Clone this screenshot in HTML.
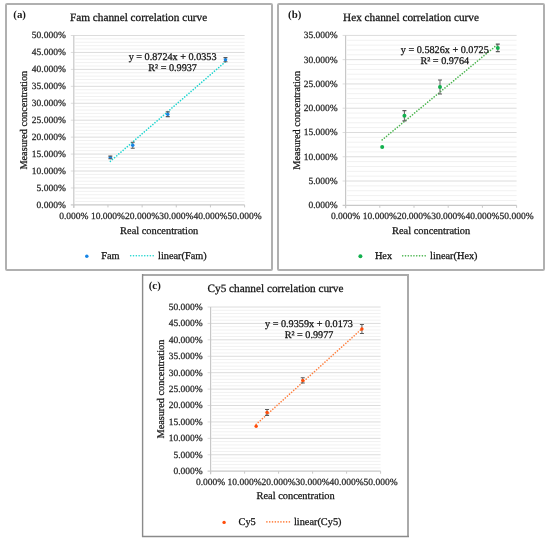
<!DOCTYPE html>
<html><head><meta charset="utf-8"><title>Channel correlation curves</title>
<style>html,body{margin:0;padding:0;background:#fff;}svg{display:block;filter:blur(0.3px);}text{font-family:"Liberation Serif", "Times New Roman", serif;stroke-width:0.26px;text-rendering:geometricPrecision;}</style>
</head><body>
<svg width="550" height="542" viewBox="0 0 550 542">
<rect x="6" y="4" width="266" height="266" rx="1" fill="#fff" stroke="#b0b0b0" stroke-width="2"/>
<line x1="75.3" y1="201.51" x2="244.6" y2="201.51" stroke="#f1f1f1" stroke-width="1"/>
<line x1="75.3" y1="198.12" x2="244.6" y2="198.12" stroke="#f1f1f1" stroke-width="1"/>
<line x1="75.3" y1="194.74" x2="244.6" y2="194.74" stroke="#f1f1f1" stroke-width="1"/>
<line x1="75.3" y1="191.35" x2="244.6" y2="191.35" stroke="#f1f1f1" stroke-width="1"/>
<line x1="75.3" y1="184.57" x2="244.6" y2="184.57" stroke="#f1f1f1" stroke-width="1"/>
<line x1="75.3" y1="181.18" x2="244.6" y2="181.18" stroke="#f1f1f1" stroke-width="1"/>
<line x1="75.3" y1="177.8" x2="244.6" y2="177.8" stroke="#f1f1f1" stroke-width="1"/>
<line x1="75.3" y1="174.41" x2="244.6" y2="174.41" stroke="#f1f1f1" stroke-width="1"/>
<line x1="75.3" y1="167.63" x2="244.6" y2="167.63" stroke="#f1f1f1" stroke-width="1"/>
<line x1="75.3" y1="164.24" x2="244.6" y2="164.24" stroke="#f1f1f1" stroke-width="1"/>
<line x1="75.3" y1="160.86" x2="244.6" y2="160.86" stroke="#f1f1f1" stroke-width="1"/>
<line x1="75.3" y1="157.47" x2="244.6" y2="157.47" stroke="#f1f1f1" stroke-width="1"/>
<line x1="75.3" y1="150.69" x2="244.6" y2="150.69" stroke="#f1f1f1" stroke-width="1"/>
<line x1="75.3" y1="147.3" x2="244.6" y2="147.3" stroke="#f1f1f1" stroke-width="1"/>
<line x1="75.3" y1="143.92" x2="244.6" y2="143.92" stroke="#f1f1f1" stroke-width="1"/>
<line x1="75.3" y1="140.53" x2="244.6" y2="140.53" stroke="#f1f1f1" stroke-width="1"/>
<line x1="75.3" y1="133.75" x2="244.6" y2="133.75" stroke="#f1f1f1" stroke-width="1"/>
<line x1="75.3" y1="130.36" x2="244.6" y2="130.36" stroke="#f1f1f1" stroke-width="1"/>
<line x1="75.3" y1="126.98" x2="244.6" y2="126.98" stroke="#f1f1f1" stroke-width="1"/>
<line x1="75.3" y1="123.59" x2="244.6" y2="123.59" stroke="#f1f1f1" stroke-width="1"/>
<line x1="75.3" y1="116.81" x2="244.6" y2="116.81" stroke="#f1f1f1" stroke-width="1"/>
<line x1="75.3" y1="113.42" x2="244.6" y2="113.42" stroke="#f1f1f1" stroke-width="1"/>
<line x1="75.3" y1="110.04" x2="244.6" y2="110.04" stroke="#f1f1f1" stroke-width="1"/>
<line x1="75.3" y1="106.65" x2="244.6" y2="106.65" stroke="#f1f1f1" stroke-width="1"/>
<line x1="75.3" y1="99.87" x2="244.6" y2="99.87" stroke="#f1f1f1" stroke-width="1"/>
<line x1="75.3" y1="96.48" x2="244.6" y2="96.48" stroke="#f1f1f1" stroke-width="1"/>
<line x1="75.3" y1="93.1" x2="244.6" y2="93.1" stroke="#f1f1f1" stroke-width="1"/>
<line x1="75.3" y1="89.71" x2="244.6" y2="89.71" stroke="#f1f1f1" stroke-width="1"/>
<line x1="75.3" y1="82.93" x2="244.6" y2="82.93" stroke="#f1f1f1" stroke-width="1"/>
<line x1="75.3" y1="79.54" x2="244.6" y2="79.54" stroke="#f1f1f1" stroke-width="1"/>
<line x1="75.3" y1="76.16" x2="244.6" y2="76.16" stroke="#f1f1f1" stroke-width="1"/>
<line x1="75.3" y1="72.77" x2="244.6" y2="72.77" stroke="#f1f1f1" stroke-width="1"/>
<line x1="75.3" y1="65.99" x2="244.6" y2="65.99" stroke="#f1f1f1" stroke-width="1"/>
<line x1="75.3" y1="62.6" x2="244.6" y2="62.6" stroke="#f1f1f1" stroke-width="1"/>
<line x1="75.3" y1="59.22" x2="244.6" y2="59.22" stroke="#f1f1f1" stroke-width="1"/>
<line x1="75.3" y1="55.83" x2="244.6" y2="55.83" stroke="#f1f1f1" stroke-width="1"/>
<line x1="75.3" y1="49.05" x2="244.6" y2="49.05" stroke="#f1f1f1" stroke-width="1"/>
<line x1="75.3" y1="45.66" x2="244.6" y2="45.66" stroke="#f1f1f1" stroke-width="1"/>
<line x1="75.3" y1="42.28" x2="244.6" y2="42.28" stroke="#f1f1f1" stroke-width="1"/>
<line x1="75.3" y1="38.89" x2="244.6" y2="38.89" stroke="#f1f1f1" stroke-width="1"/>
<line x1="70.8" y1="187.96" x2="244.6" y2="187.96" stroke="#dcdcdc" stroke-width="1"/>
<line x1="70.8" y1="171.02" x2="244.6" y2="171.02" stroke="#dcdcdc" stroke-width="1"/>
<line x1="70.8" y1="154.08" x2="244.6" y2="154.08" stroke="#dcdcdc" stroke-width="1"/>
<line x1="70.8" y1="137.14" x2="244.6" y2="137.14" stroke="#dcdcdc" stroke-width="1"/>
<line x1="70.8" y1="120.2" x2="244.6" y2="120.2" stroke="#dcdcdc" stroke-width="1"/>
<line x1="70.8" y1="103.26" x2="244.6" y2="103.26" stroke="#dcdcdc" stroke-width="1"/>
<line x1="70.8" y1="86.32" x2="244.6" y2="86.32" stroke="#dcdcdc" stroke-width="1"/>
<line x1="70.8" y1="69.38" x2="244.6" y2="69.38" stroke="#dcdcdc" stroke-width="1"/>
<line x1="70.8" y1="52.44" x2="244.6" y2="52.44" stroke="#dcdcdc" stroke-width="1"/>
<line x1="70.8" y1="35.5" x2="244.6" y2="35.5" stroke="#dcdcdc" stroke-width="1"/>
<line x1="73.8" y1="35.5" x2="73.8" y2="207.9" stroke="#c8c8c8" stroke-width="1.2"/>
<line x1="70.8" y1="204.9" x2="244.6" y2="204.9" stroke="#c8c8c8" stroke-width="1.2"/>
<line x1="73.8" y1="204.9" x2="73.8" y2="207.4" stroke="#c8c8c8" stroke-width="1"/>
<line x1="107.96" y1="204.9" x2="107.96" y2="207.4" stroke="#c8c8c8" stroke-width="1"/>
<line x1="142.12" y1="204.9" x2="142.12" y2="207.4" stroke="#c8c8c8" stroke-width="1"/>
<line x1="176.28" y1="204.9" x2="176.28" y2="207.4" stroke="#c8c8c8" stroke-width="1"/>
<line x1="210.44" y1="204.9" x2="210.44" y2="207.4" stroke="#c8c8c8" stroke-width="1"/>
<line x1="244.6" y1="204.9" x2="244.6" y2="207.4" stroke="#c8c8c8" stroke-width="1"/>
<text x="65.9" y="207.8" font-size="9.5" text-anchor="end" fill="#2a2a2a" stroke="#2a2a2a">0.000%</text>
<text x="65.9" y="190.86" font-size="9.5" text-anchor="end" fill="#2a2a2a" stroke="#2a2a2a">5.000%</text>
<text x="65.9" y="173.92" font-size="9.5" text-anchor="end" fill="#2a2a2a" stroke="#2a2a2a">10.000%</text>
<text x="65.9" y="156.98" font-size="9.5" text-anchor="end" fill="#2a2a2a" stroke="#2a2a2a">15.000%</text>
<text x="65.9" y="140.04" font-size="9.5" text-anchor="end" fill="#2a2a2a" stroke="#2a2a2a">20.000%</text>
<text x="65.9" y="123.1" font-size="9.5" text-anchor="end" fill="#2a2a2a" stroke="#2a2a2a">25.000%</text>
<text x="65.9" y="106.16" font-size="9.5" text-anchor="end" fill="#2a2a2a" stroke="#2a2a2a">30.000%</text>
<text x="65.9" y="89.22" font-size="9.5" text-anchor="end" fill="#2a2a2a" stroke="#2a2a2a">35.000%</text>
<text x="65.9" y="72.28" font-size="9.5" text-anchor="end" fill="#2a2a2a" stroke="#2a2a2a">40.000%</text>
<text x="65.9" y="55.34" font-size="9.5" text-anchor="end" fill="#2a2a2a" stroke="#2a2a2a">45.000%</text>
<text x="65.9" y="38.4" font-size="9.5" text-anchor="end" fill="#2a2a2a" stroke="#2a2a2a">50.000%</text>
<text x="73.8" y="218.6" font-size="9.5" text-anchor="middle" fill="#2a2a2a" stroke="#2a2a2a">0.000%</text>
<text x="107.96" y="218.6" font-size="9.5" text-anchor="middle" fill="#2a2a2a" stroke="#2a2a2a">10.000%</text>
<text x="142.12" y="218.6" font-size="9.5" text-anchor="middle" fill="#2a2a2a" stroke="#2a2a2a">20.000%</text>
<text x="176.28" y="218.6" font-size="9.5" text-anchor="middle" fill="#2a2a2a" stroke="#2a2a2a">30.000%</text>
<text x="210.44" y="218.6" font-size="9.5" text-anchor="middle" fill="#2a2a2a" stroke="#2a2a2a">40.000%</text>
<text x="244.6" y="218.6" font-size="9.5" text-anchor="middle" fill="#2a2a2a" stroke="#2a2a2a">50.000%</text>
<text x="159.2" y="233.6" font-size="10.4" text-anchor="middle" fill="#141414" stroke="#141414">Real concentration</text>
<text transform="translate(27.4,120.2) rotate(-90)" font-size="10.25" text-anchor="middle" fill="#141414" stroke="#141414">Measured concentration</text>
<text x="138.6" y="20.8" font-size="11.25" text-anchor="middle" fill="#141414" stroke="#141414">Fam channel correlation curve</text>
<text x="13.3" y="18.3" font-size="10.9" font-weight="bold" fill="#1a1a1a" stroke="none">(a)</text>
<line x1="110.35" y1="161.31" x2="225.47" y2="61.71" stroke="#1dd5cf" stroke-width="1.65" stroke-linecap="round" stroke-dasharray="0.01 2.8"/>
<path d="M110.35 156.11V158.82" stroke="#707070" stroke-width="1.1" fill="none"/>
<circle cx="110.35" cy="157.47" r="1.75" fill="#1585e6"/>
<path d="M108.35 156.11H112.35M108.35 158.82H112.35" stroke="#5a5a5a" stroke-width="1.1" fill="none"/>
<path d="M132.73 142.22V148.32" stroke="#707070" stroke-width="1.1" fill="none"/>
<circle cx="132.73" cy="145.27" r="1.75" fill="#1585e6"/>
<path d="M130.73 142.22H134.73M130.73 148.32H134.73" stroke="#5a5a5a" stroke-width="1.1" fill="none"/>
<path d="M167.74 111.9V116.64" stroke="#707070" stroke-width="1.1" fill="none"/>
<circle cx="167.74" cy="114.27" r="1.75" fill="#1585e6"/>
<path d="M165.74 111.9H169.74M165.74 116.64H169.74" stroke="#5a5a5a" stroke-width="1.1" fill="none"/>
<path d="M225.47 57.62V61.82" stroke="#707070" stroke-width="1.1" fill="none"/>
<circle cx="225.47" cy="59.72" r="1.75" fill="#1585e6"/>
<path d="M223.47 57.62H227.47M223.47 61.82H227.47" stroke="#5a5a5a" stroke-width="1.1" fill="none"/>
<text x="172.6" y="60" font-size="10.2" text-anchor="middle" fill="#141414" stroke="#141414">y = 0.8724x + 0.0353</text>
<text x="172.6" y="71.2" font-size="10.2" text-anchor="middle" fill="#141414" stroke="#141414">R² = 0.9937</text>
<circle cx="86.8" cy="256.2" r="1.75" fill="#1585e6"/>
<text x="101.3" y="259.2" font-size="10.3" fill="#141414" stroke="#141414">Fam</text>
<line x1="130.7" y1="255.7" x2="155.1" y2="255.7" stroke="#1dd5cf" stroke-width="1.65" stroke-linecap="round" stroke-dasharray="0.01 2.8"/>
<text x="158.1" y="259.2" font-size="10.3" fill="#141414" stroke="#141414">linear(Fam)</text>
<rect x="278" y="4" width="266" height="266" rx="1" fill="#fff" stroke="#b0b0b0" stroke-width="2"/>
<line x1="347.1" y1="200.45" x2="516.6" y2="200.45" stroke="#f1f1f1" stroke-width="1"/>
<line x1="347.1" y1="195.59" x2="516.6" y2="195.59" stroke="#f1f1f1" stroke-width="1"/>
<line x1="347.1" y1="190.74" x2="516.6" y2="190.74" stroke="#f1f1f1" stroke-width="1"/>
<line x1="347.1" y1="185.88" x2="516.6" y2="185.88" stroke="#f1f1f1" stroke-width="1"/>
<line x1="347.1" y1="176.17" x2="516.6" y2="176.17" stroke="#f1f1f1" stroke-width="1"/>
<line x1="347.1" y1="171.32" x2="516.6" y2="171.32" stroke="#f1f1f1" stroke-width="1"/>
<line x1="347.1" y1="166.47" x2="516.6" y2="166.47" stroke="#f1f1f1" stroke-width="1"/>
<line x1="347.1" y1="161.61" x2="516.6" y2="161.61" stroke="#f1f1f1" stroke-width="1"/>
<line x1="347.1" y1="151.9" x2="516.6" y2="151.9" stroke="#f1f1f1" stroke-width="1"/>
<line x1="347.1" y1="147.05" x2="516.6" y2="147.05" stroke="#f1f1f1" stroke-width="1"/>
<line x1="347.1" y1="142.19" x2="516.6" y2="142.19" stroke="#f1f1f1" stroke-width="1"/>
<line x1="347.1" y1="137.34" x2="516.6" y2="137.34" stroke="#f1f1f1" stroke-width="1"/>
<line x1="347.1" y1="127.63" x2="516.6" y2="127.63" stroke="#f1f1f1" stroke-width="1"/>
<line x1="347.1" y1="122.78" x2="516.6" y2="122.78" stroke="#f1f1f1" stroke-width="1"/>
<line x1="347.1" y1="117.92" x2="516.6" y2="117.92" stroke="#f1f1f1" stroke-width="1"/>
<line x1="347.1" y1="113.07" x2="516.6" y2="113.07" stroke="#f1f1f1" stroke-width="1"/>
<line x1="347.1" y1="103.36" x2="516.6" y2="103.36" stroke="#f1f1f1" stroke-width="1"/>
<line x1="347.1" y1="98.51" x2="516.6" y2="98.51" stroke="#f1f1f1" stroke-width="1"/>
<line x1="347.1" y1="93.65" x2="516.6" y2="93.65" stroke="#f1f1f1" stroke-width="1"/>
<line x1="347.1" y1="88.8" x2="516.6" y2="88.8" stroke="#f1f1f1" stroke-width="1"/>
<line x1="347.1" y1="79.09" x2="516.6" y2="79.09" stroke="#f1f1f1" stroke-width="1"/>
<line x1="347.1" y1="74.23" x2="516.6" y2="74.23" stroke="#f1f1f1" stroke-width="1"/>
<line x1="347.1" y1="69.38" x2="516.6" y2="69.38" stroke="#f1f1f1" stroke-width="1"/>
<line x1="347.1" y1="64.53" x2="516.6" y2="64.53" stroke="#f1f1f1" stroke-width="1"/>
<line x1="347.1" y1="54.82" x2="516.6" y2="54.82" stroke="#f1f1f1" stroke-width="1"/>
<line x1="347.1" y1="49.96" x2="516.6" y2="49.96" stroke="#f1f1f1" stroke-width="1"/>
<line x1="347.1" y1="45.11" x2="516.6" y2="45.11" stroke="#f1f1f1" stroke-width="1"/>
<line x1="347.1" y1="40.25" x2="516.6" y2="40.25" stroke="#f1f1f1" stroke-width="1"/>
<line x1="342.6" y1="181.03" x2="516.6" y2="181.03" stroke="#dcdcdc" stroke-width="1"/>
<line x1="342.6" y1="156.76" x2="516.6" y2="156.76" stroke="#dcdcdc" stroke-width="1"/>
<line x1="342.6" y1="132.49" x2="516.6" y2="132.49" stroke="#dcdcdc" stroke-width="1"/>
<line x1="342.6" y1="108.21" x2="516.6" y2="108.21" stroke="#dcdcdc" stroke-width="1"/>
<line x1="342.6" y1="83.94" x2="516.6" y2="83.94" stroke="#dcdcdc" stroke-width="1"/>
<line x1="342.6" y1="59.67" x2="516.6" y2="59.67" stroke="#dcdcdc" stroke-width="1"/>
<line x1="342.6" y1="35.4" x2="516.6" y2="35.4" stroke="#dcdcdc" stroke-width="1"/>
<line x1="345.6" y1="35.4" x2="345.6" y2="208.3" stroke="#c8c8c8" stroke-width="1.2"/>
<line x1="342.6" y1="205.3" x2="516.6" y2="205.3" stroke="#c8c8c8" stroke-width="1.2"/>
<line x1="345.6" y1="205.3" x2="345.6" y2="207.8" stroke="#c8c8c8" stroke-width="1"/>
<line x1="379.8" y1="205.3" x2="379.8" y2="207.8" stroke="#c8c8c8" stroke-width="1"/>
<line x1="414" y1="205.3" x2="414" y2="207.8" stroke="#c8c8c8" stroke-width="1"/>
<line x1="448.2" y1="205.3" x2="448.2" y2="207.8" stroke="#c8c8c8" stroke-width="1"/>
<line x1="482.4" y1="205.3" x2="482.4" y2="207.8" stroke="#c8c8c8" stroke-width="1"/>
<line x1="516.6" y1="205.3" x2="516.6" y2="207.8" stroke="#c8c8c8" stroke-width="1"/>
<text x="337.7" y="208.2" font-size="9.5" text-anchor="end" fill="#2a2a2a" stroke="#2a2a2a">0.000%</text>
<text x="337.7" y="183.93" font-size="9.5" text-anchor="end" fill="#2a2a2a" stroke="#2a2a2a">5.000%</text>
<text x="337.7" y="159.66" font-size="9.5" text-anchor="end" fill="#2a2a2a" stroke="#2a2a2a">10.000%</text>
<text x="337.7" y="135.39" font-size="9.5" text-anchor="end" fill="#2a2a2a" stroke="#2a2a2a">15.000%</text>
<text x="337.7" y="111.11" font-size="9.5" text-anchor="end" fill="#2a2a2a" stroke="#2a2a2a">20.000%</text>
<text x="337.7" y="86.84" font-size="9.5" text-anchor="end" fill="#2a2a2a" stroke="#2a2a2a">25.000%</text>
<text x="337.7" y="62.57" font-size="9.5" text-anchor="end" fill="#2a2a2a" stroke="#2a2a2a">30.000%</text>
<text x="337.7" y="38.3" font-size="9.5" text-anchor="end" fill="#2a2a2a" stroke="#2a2a2a">35.000%</text>
<text x="345.6" y="219" font-size="9.5" text-anchor="middle" fill="#2a2a2a" stroke="#2a2a2a">0.000%</text>
<text x="379.8" y="219" font-size="9.5" text-anchor="middle" fill="#2a2a2a" stroke="#2a2a2a">10.000%</text>
<text x="414" y="219" font-size="9.5" text-anchor="middle" fill="#2a2a2a" stroke="#2a2a2a">20.000%</text>
<text x="448.2" y="219" font-size="9.5" text-anchor="middle" fill="#2a2a2a" stroke="#2a2a2a">30.000%</text>
<text x="482.4" y="219" font-size="9.5" text-anchor="middle" fill="#2a2a2a" stroke="#2a2a2a">40.000%</text>
<text x="516.6" y="219" font-size="9.5" text-anchor="middle" fill="#2a2a2a" stroke="#2a2a2a">50.000%</text>
<text x="431.1" y="233.5" font-size="10.4" text-anchor="middle" fill="#141414" stroke="#141414">Real concentration</text>
<text transform="translate(300.2,120.35) rotate(-90)" font-size="10.25" text-anchor="middle" fill="#141414" stroke="#141414">Measured concentration</text>
<text x="411" y="20.8" font-size="11.25" text-anchor="middle" fill="#141414" stroke="#141414">Hex channel correlation curve</text>
<text x="288" y="18.3" font-size="10.9" font-weight="bold" fill="#1a1a1a" stroke="none">(b)</text>
<line x1="382.19" y1="139.85" x2="497.45" y2="44.54" stroke="#4bb54f" stroke-width="1.65" stroke-linecap="round" stroke-dasharray="0.01 2.8"/>
<circle cx="382.19" cy="147.05" r="2" fill="#12b04e"/>
<path d="M404.42 110.64V120.84" stroke="#707070" stroke-width="1.1" fill="none"/>
<circle cx="404.42" cy="115.74" r="2" fill="#12b04e"/>
<path d="M402.42 110.64H406.42M402.42 120.84H406.42" stroke="#5a5a5a" stroke-width="1.1" fill="none"/>
<path d="M439.99 80.01V93.99" stroke="#707070" stroke-width="1.1" fill="none"/>
<circle cx="439.99" cy="87" r="2" fill="#12b04e"/>
<path d="M437.99 80.01H441.99M437.99 93.99H441.99" stroke="#5a5a5a" stroke-width="1.1" fill="none"/>
<path d="M497.79 44.09V51.66" stroke="#707070" stroke-width="1.1" fill="none"/>
<circle cx="497.79" cy="47.88" r="2" fill="#12b04e"/>
<path d="M495.79 44.09H499.79M495.79 51.66H499.79" stroke="#5a5a5a" stroke-width="1.1" fill="none"/>
<text x="444.8" y="52.5" font-size="10.2" text-anchor="middle" fill="#141414" stroke="#141414">y = 0.5826x + 0.0725</text>
<text x="444.8" y="63.7" font-size="10.2" text-anchor="middle" fill="#141414" stroke="#141414">R² = 0.9764</text>
<circle cx="360.4" cy="256.3" r="2" fill="#12b04e"/>
<text x="374.9" y="259.3" font-size="10.3" fill="#141414" stroke="#141414">Hex</text>
<line x1="402.7" y1="255.8" x2="427.1" y2="255.8" stroke="#4bb54f" stroke-width="1.65" stroke-linecap="round" stroke-dasharray="0.01 2.8"/>
<text x="430.1" y="259.3" font-size="10.3" fill="#141414" stroke="#141414">linear(Hex)</text>
<line x1="142" y1="275" x2="409" y2="275" stroke="#aaaaaa" stroke-width="2"/>
<line x1="408" y1="274" x2="408" y2="537" stroke="#aaaaaa" stroke-width="2"/>
<line x1="142.6" y1="274" x2="142.6" y2="537" stroke="#8a8a8a" stroke-width="1.4"/>
<line x1="142" y1="536.5" x2="409" y2="536.5" stroke="#8a8a8a" stroke-width="1.4"/>
<line x1="212.1" y1="467.92" x2="380.6" y2="467.92" stroke="#f1f1f1" stroke-width="1"/>
<line x1="212.1" y1="464.63" x2="380.6" y2="464.63" stroke="#f1f1f1" stroke-width="1"/>
<line x1="212.1" y1="461.35" x2="380.6" y2="461.35" stroke="#f1f1f1" stroke-width="1"/>
<line x1="212.1" y1="458.06" x2="380.6" y2="458.06" stroke="#f1f1f1" stroke-width="1"/>
<line x1="212.1" y1="451.5" x2="380.6" y2="451.5" stroke="#f1f1f1" stroke-width="1"/>
<line x1="212.1" y1="448.21" x2="380.6" y2="448.21" stroke="#f1f1f1" stroke-width="1"/>
<line x1="212.1" y1="444.93" x2="380.6" y2="444.93" stroke="#f1f1f1" stroke-width="1"/>
<line x1="212.1" y1="441.64" x2="380.6" y2="441.64" stroke="#f1f1f1" stroke-width="1"/>
<line x1="212.1" y1="435.08" x2="380.6" y2="435.08" stroke="#f1f1f1" stroke-width="1"/>
<line x1="212.1" y1="431.79" x2="380.6" y2="431.79" stroke="#f1f1f1" stroke-width="1"/>
<line x1="212.1" y1="428.51" x2="380.6" y2="428.51" stroke="#f1f1f1" stroke-width="1"/>
<line x1="212.1" y1="425.22" x2="380.6" y2="425.22" stroke="#f1f1f1" stroke-width="1"/>
<line x1="212.1" y1="418.66" x2="380.6" y2="418.66" stroke="#f1f1f1" stroke-width="1"/>
<line x1="212.1" y1="415.37" x2="380.6" y2="415.37" stroke="#f1f1f1" stroke-width="1"/>
<line x1="212.1" y1="412.09" x2="380.6" y2="412.09" stroke="#f1f1f1" stroke-width="1"/>
<line x1="212.1" y1="408.8" x2="380.6" y2="408.8" stroke="#f1f1f1" stroke-width="1"/>
<line x1="212.1" y1="402.24" x2="380.6" y2="402.24" stroke="#f1f1f1" stroke-width="1"/>
<line x1="212.1" y1="398.95" x2="380.6" y2="398.95" stroke="#f1f1f1" stroke-width="1"/>
<line x1="212.1" y1="395.67" x2="380.6" y2="395.67" stroke="#f1f1f1" stroke-width="1"/>
<line x1="212.1" y1="392.38" x2="380.6" y2="392.38" stroke="#f1f1f1" stroke-width="1"/>
<line x1="212.1" y1="385.82" x2="380.6" y2="385.82" stroke="#f1f1f1" stroke-width="1"/>
<line x1="212.1" y1="382.53" x2="380.6" y2="382.53" stroke="#f1f1f1" stroke-width="1"/>
<line x1="212.1" y1="379.25" x2="380.6" y2="379.25" stroke="#f1f1f1" stroke-width="1"/>
<line x1="212.1" y1="375.96" x2="380.6" y2="375.96" stroke="#f1f1f1" stroke-width="1"/>
<line x1="212.1" y1="369.4" x2="380.6" y2="369.4" stroke="#f1f1f1" stroke-width="1"/>
<line x1="212.1" y1="366.11" x2="380.6" y2="366.11" stroke="#f1f1f1" stroke-width="1"/>
<line x1="212.1" y1="362.83" x2="380.6" y2="362.83" stroke="#f1f1f1" stroke-width="1"/>
<line x1="212.1" y1="359.54" x2="380.6" y2="359.54" stroke="#f1f1f1" stroke-width="1"/>
<line x1="212.1" y1="352.98" x2="380.6" y2="352.98" stroke="#f1f1f1" stroke-width="1"/>
<line x1="212.1" y1="349.69" x2="380.6" y2="349.69" stroke="#f1f1f1" stroke-width="1"/>
<line x1="212.1" y1="346.41" x2="380.6" y2="346.41" stroke="#f1f1f1" stroke-width="1"/>
<line x1="212.1" y1="343.12" x2="380.6" y2="343.12" stroke="#f1f1f1" stroke-width="1"/>
<line x1="212.1" y1="336.56" x2="380.6" y2="336.56" stroke="#f1f1f1" stroke-width="1"/>
<line x1="212.1" y1="333.27" x2="380.6" y2="333.27" stroke="#f1f1f1" stroke-width="1"/>
<line x1="212.1" y1="329.99" x2="380.6" y2="329.99" stroke="#f1f1f1" stroke-width="1"/>
<line x1="212.1" y1="326.7" x2="380.6" y2="326.7" stroke="#f1f1f1" stroke-width="1"/>
<line x1="212.1" y1="320.14" x2="380.6" y2="320.14" stroke="#f1f1f1" stroke-width="1"/>
<line x1="212.1" y1="316.85" x2="380.6" y2="316.85" stroke="#f1f1f1" stroke-width="1"/>
<line x1="212.1" y1="313.57" x2="380.6" y2="313.57" stroke="#f1f1f1" stroke-width="1"/>
<line x1="212.1" y1="310.28" x2="380.6" y2="310.28" stroke="#f1f1f1" stroke-width="1"/>
<line x1="207.6" y1="454.78" x2="380.6" y2="454.78" stroke="#dcdcdc" stroke-width="1"/>
<line x1="207.6" y1="438.36" x2="380.6" y2="438.36" stroke="#dcdcdc" stroke-width="1"/>
<line x1="207.6" y1="421.94" x2="380.6" y2="421.94" stroke="#dcdcdc" stroke-width="1"/>
<line x1="207.6" y1="405.52" x2="380.6" y2="405.52" stroke="#dcdcdc" stroke-width="1"/>
<line x1="207.6" y1="389.1" x2="380.6" y2="389.1" stroke="#dcdcdc" stroke-width="1"/>
<line x1="207.6" y1="372.68" x2="380.6" y2="372.68" stroke="#dcdcdc" stroke-width="1"/>
<line x1="207.6" y1="356.26" x2="380.6" y2="356.26" stroke="#dcdcdc" stroke-width="1"/>
<line x1="207.6" y1="339.84" x2="380.6" y2="339.84" stroke="#dcdcdc" stroke-width="1"/>
<line x1="207.6" y1="323.42" x2="380.6" y2="323.42" stroke="#dcdcdc" stroke-width="1"/>
<line x1="207.6" y1="307" x2="380.6" y2="307" stroke="#dcdcdc" stroke-width="1"/>
<line x1="210.6" y1="307" x2="210.6" y2="474.2" stroke="#c8c8c8" stroke-width="1.2"/>
<line x1="207.6" y1="471.2" x2="380.6" y2="471.2" stroke="#c8c8c8" stroke-width="1.2"/>
<line x1="210.6" y1="471.2" x2="210.6" y2="473.7" stroke="#c8c8c8" stroke-width="1"/>
<line x1="244.6" y1="471.2" x2="244.6" y2="473.7" stroke="#c8c8c8" stroke-width="1"/>
<line x1="278.6" y1="471.2" x2="278.6" y2="473.7" stroke="#c8c8c8" stroke-width="1"/>
<line x1="312.6" y1="471.2" x2="312.6" y2="473.7" stroke="#c8c8c8" stroke-width="1"/>
<line x1="346.6" y1="471.2" x2="346.6" y2="473.7" stroke="#c8c8c8" stroke-width="1"/>
<line x1="380.6" y1="471.2" x2="380.6" y2="473.7" stroke="#c8c8c8" stroke-width="1"/>
<text x="202.7" y="474.1" font-size="9.5" text-anchor="end" fill="#2a2a2a" stroke="#2a2a2a">0.000%</text>
<text x="202.7" y="457.68" font-size="9.5" text-anchor="end" fill="#2a2a2a" stroke="#2a2a2a">5.000%</text>
<text x="202.7" y="441.26" font-size="9.5" text-anchor="end" fill="#2a2a2a" stroke="#2a2a2a">10.000%</text>
<text x="202.7" y="424.84" font-size="9.5" text-anchor="end" fill="#2a2a2a" stroke="#2a2a2a">15.000%</text>
<text x="202.7" y="408.42" font-size="9.5" text-anchor="end" fill="#2a2a2a" stroke="#2a2a2a">20.000%</text>
<text x="202.7" y="392" font-size="9.5" text-anchor="end" fill="#2a2a2a" stroke="#2a2a2a">25.000%</text>
<text x="202.7" y="375.58" font-size="9.5" text-anchor="end" fill="#2a2a2a" stroke="#2a2a2a">30.000%</text>
<text x="202.7" y="359.16" font-size="9.5" text-anchor="end" fill="#2a2a2a" stroke="#2a2a2a">35.000%</text>
<text x="202.7" y="342.74" font-size="9.5" text-anchor="end" fill="#2a2a2a" stroke="#2a2a2a">40.000%</text>
<text x="202.7" y="326.32" font-size="9.5" text-anchor="end" fill="#2a2a2a" stroke="#2a2a2a">45.000%</text>
<text x="202.7" y="309.9" font-size="9.5" text-anchor="end" fill="#2a2a2a" stroke="#2a2a2a">50.000%</text>
<text x="210.6" y="484.6" font-size="9.5" text-anchor="middle" fill="#2a2a2a" stroke="#2a2a2a">0.000%</text>
<text x="244.6" y="484.6" font-size="9.5" text-anchor="middle" fill="#2a2a2a" stroke="#2a2a2a">10.000%</text>
<text x="278.6" y="484.6" font-size="9.5" text-anchor="middle" fill="#2a2a2a" stroke="#2a2a2a">20.000%</text>
<text x="312.6" y="484.6" font-size="9.5" text-anchor="middle" fill="#2a2a2a" stroke="#2a2a2a">30.000%</text>
<text x="346.6" y="484.6" font-size="9.5" text-anchor="middle" fill="#2a2a2a" stroke="#2a2a2a">40.000%</text>
<text x="380.6" y="484.6" font-size="9.5" text-anchor="middle" fill="#2a2a2a" stroke="#2a2a2a">50.000%</text>
<text x="295.6" y="499.2" font-size="10.4" text-anchor="middle" fill="#141414" stroke="#141414">Real concentration</text>
<text transform="translate(164.4,389.1) rotate(-90)" font-size="10.25" text-anchor="middle" fill="#141414" stroke="#141414">Measured concentration</text>
<text x="275.5" y="292" font-size="11.25" text-anchor="middle" fill="#141414" stroke="#141414">Cy5 channel correlation curve</text>
<text x="148.7" y="289.2" font-size="10.9" font-weight="bold" fill="#1a1a1a" stroke="none">(c)</text>
<line x1="256.16" y1="424.33" x2="361.9" y2="328.75" stroke="#ff8040" stroke-width="1.65" stroke-linecap="round" stroke-dasharray="0.01 2.8"/>
<circle cx="256.16" cy="426.21" r="1.7" fill="#ff4c0a"/>
<path d="M267.04 409.46V415.37" stroke="#707070" stroke-width="1.1" fill="none"/>
<circle cx="267.04" cy="412.42" r="1.7" fill="#ff4c0a"/>
<path d="M265.04 409.46H269.04M265.04 415.37H269.04" stroke="#5a5a5a" stroke-width="1.1" fill="none"/>
<path d="M302.74 377.77V383.02" stroke="#707070" stroke-width="1.1" fill="none"/>
<circle cx="302.74" cy="380.4" r="1.7" fill="#ff4c0a"/>
<path d="M300.74 377.77H304.74M300.74 383.02H304.74" stroke="#5a5a5a" stroke-width="1.1" fill="none"/>
<path d="M361.9 324.57V333.44" stroke="#707070" stroke-width="1.1" fill="none"/>
<circle cx="361.9" cy="329" r="1.7" fill="#ff4c0a"/>
<path d="M359.9 324.57H363.9M359.9 333.44H363.9" stroke="#5a5a5a" stroke-width="1.1" fill="none"/>
<text x="309" y="326.8" font-size="10.2" text-anchor="middle" fill="#141414" stroke="#141414">y = 0.9359x + 0.0173</text>
<text x="309" y="338" font-size="10.2" text-anchor="middle" fill="#141414" stroke="#141414">R² = 0.9977</text>
<circle cx="224.1" cy="522.4" r="1.7" fill="#ff4c0a"/>
<text x="238.6" y="525.4" font-size="10.3" fill="#141414" stroke="#141414">Cy5</text>
<line x1="266.9" y1="521.9" x2="291" y2="521.9" stroke="#ff8040" stroke-width="1.65" stroke-linecap="round" stroke-dasharray="0.01 2.8"/>
<text x="294" y="525.4" font-size="10.3" fill="#141414" stroke="#141414">linear(Cy5)</text>
</svg>
</body></html>
